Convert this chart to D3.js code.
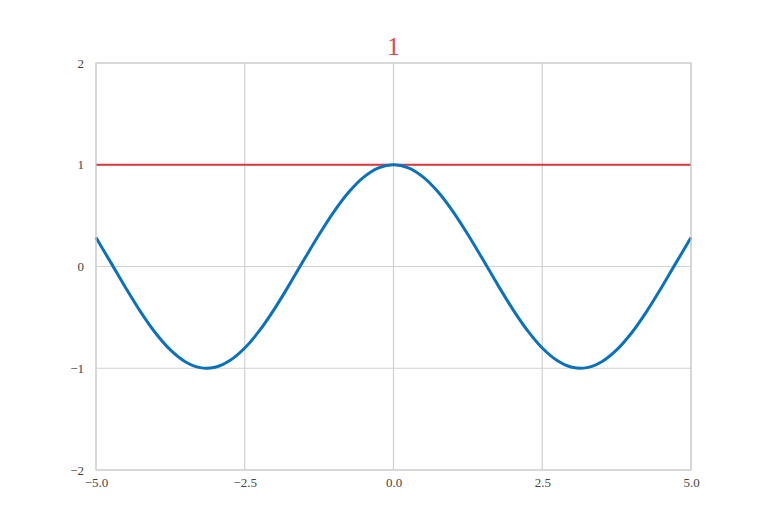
<!DOCTYPE html>
<html>
<head>
<meta charset="utf-8">
<script src="https://cdn.jsdelivr.net/npm/d3@7"></script>
<style>
body { margin: 0; background: #fff; }
text { font-family: "Liberation Serif", "DejaVu Serif", serif; }
</style>
</head>
<body>
<div id="chart-area"></div>
<script>
var xs = [-5, -4.75, -4.5, -4.25, -4, -3.75, -3.5, -3.25, -3, -2.75, -2.5, -2.25, -2, -1.75, -1.5, -1.25, -1, -0.75, -0.5, -0.25,
          0, 0.25, 0.5, 0.75, 1, 1.25, 1.5, 1.75, 2, 2.25, 2.5, 2.75, 3, 3.25, 3.5, 3.75, 4, 4.25, 4.5, 4.75, 5];
var ys = [0.284, 0.038, -0.211, -0.446, -0.654, -0.820, -0.936, -0.994, -0.990, -0.924, -0.801, -0.628, -0.416, -0.178, 0.071, 0.315, 0.540, 0.732, 0.878, 0.969,
          1, 0.969, 0.878, 0.732, 0.540, 0.315, 0.071, -0.178, -0.416, -0.628, -0.801, -0.924, -0.990, -0.994, -0.936, -0.820, -0.654, -0.446, -0.211, 0.038, 0.284];
var xTicks = [-5, -2.5, 0, 2.5, 5];
var yTicks = [-2, -1, 0, 1, 2];
var refLine = 1;
var title = "1";

var margin = {top: 63, right: 77, bottom: 58, left: 96};
var width = 768 - margin.left - margin.right;
var height = 528 - margin.top - margin.bottom;

var svg = d3.select("#chart-area").append("svg")
    .attr("width", 768)
    .attr("height", 528);

var g = svg.append("g")
    .attr("transform", "translate(" + margin.left + "," + margin.top + ")");

var x = d3.scaleLinear().domain([-5, 5]).range([0, width]);
var y = d3.scaleLinear().domain([-2, 2]).range([height, 0]);

// grid
g.selectAll(".vgrid").data(xTicks).enter().append("line")
    .attr("x1", d => x(d)).attr("x2", d => x(d))
    .attr("y1", 0).attr("y2", height)
    .attr("stroke", "#d0d0d0").attr("stroke-width", 1.2);
g.selectAll(".hgrid").data(yTicks).enter().append("line")
    .attr("y1", d => y(d)).attr("y2", d => y(d))
    .attr("x1", 0).attr("x2", width)
    .attr("stroke", "#d0d0d0").attr("stroke-width", 1.2);

var fmtX = d => (d < 0 ? "\u2212" : "") + Math.abs(d).toFixed(1);
var fmtY = d => (d < 0 ? "\u2212" : "") + Math.abs(d);

var bottomAxis = d3.axisBottom(x).tickValues(xTicks).tickSize(0).tickPadding(8).tickFormat(fmtX);
var gx = g.append("g").attr("transform", "translate(0," + height + ")").call(bottomAxis)
    .attr("font-family", "Liberation Serif");
gx.select(".domain").remove();
gx.selectAll("text").attr("font-size", "13px").attr("fill", "#444");

var leftAxis = d3.axisLeft(y).tickValues(yTicks).tickSize(0).tickPadding(12).tickFormat(fmtY);
var gy = g.append("g").call(leftAxis)
    .attr("font-family", "Liberation Serif");
gy.select(".domain").remove();
gy.selectAll("text").attr("font-size", "13px").attr("fill", "#444");

// reference line
g.append("line")
    .attr("x1", 0).attr("x2", width)
    .attr("y1", y(refLine)).attr("y2", y(refLine))
    .attr("stroke", "#d9363e").attr("stroke-width", 1.8);

// curve
var pts = xs.map((d, i) => [d, ys[i]]);
var line = d3.line().x(d => x(d[0])).y(d => y(d[1])).curve(d3.curveCatmullRom.alpha(0.5));
g.append("path").datum(pts)
    .attr("d", line)
    .attr("fill", "none")
    .attr("stroke", "#0a72bd")
    .attr("stroke-width", 3);

// frame
g.append("rect").attr("width", width).attr("height", height)
    .attr("fill", "none").attr("stroke", "#cfcfcf").attr("stroke-width", 1.2);

g.append("text")
    .attr("x", width / 2).attr("y", -8)
    .attr("text-anchor", "middle")
    .attr("font-size", "25px")
    .attr("font-weight", "300")
    .attr("fill", "#e0474c")
    .text(title);
</script>
</body>
</html>
